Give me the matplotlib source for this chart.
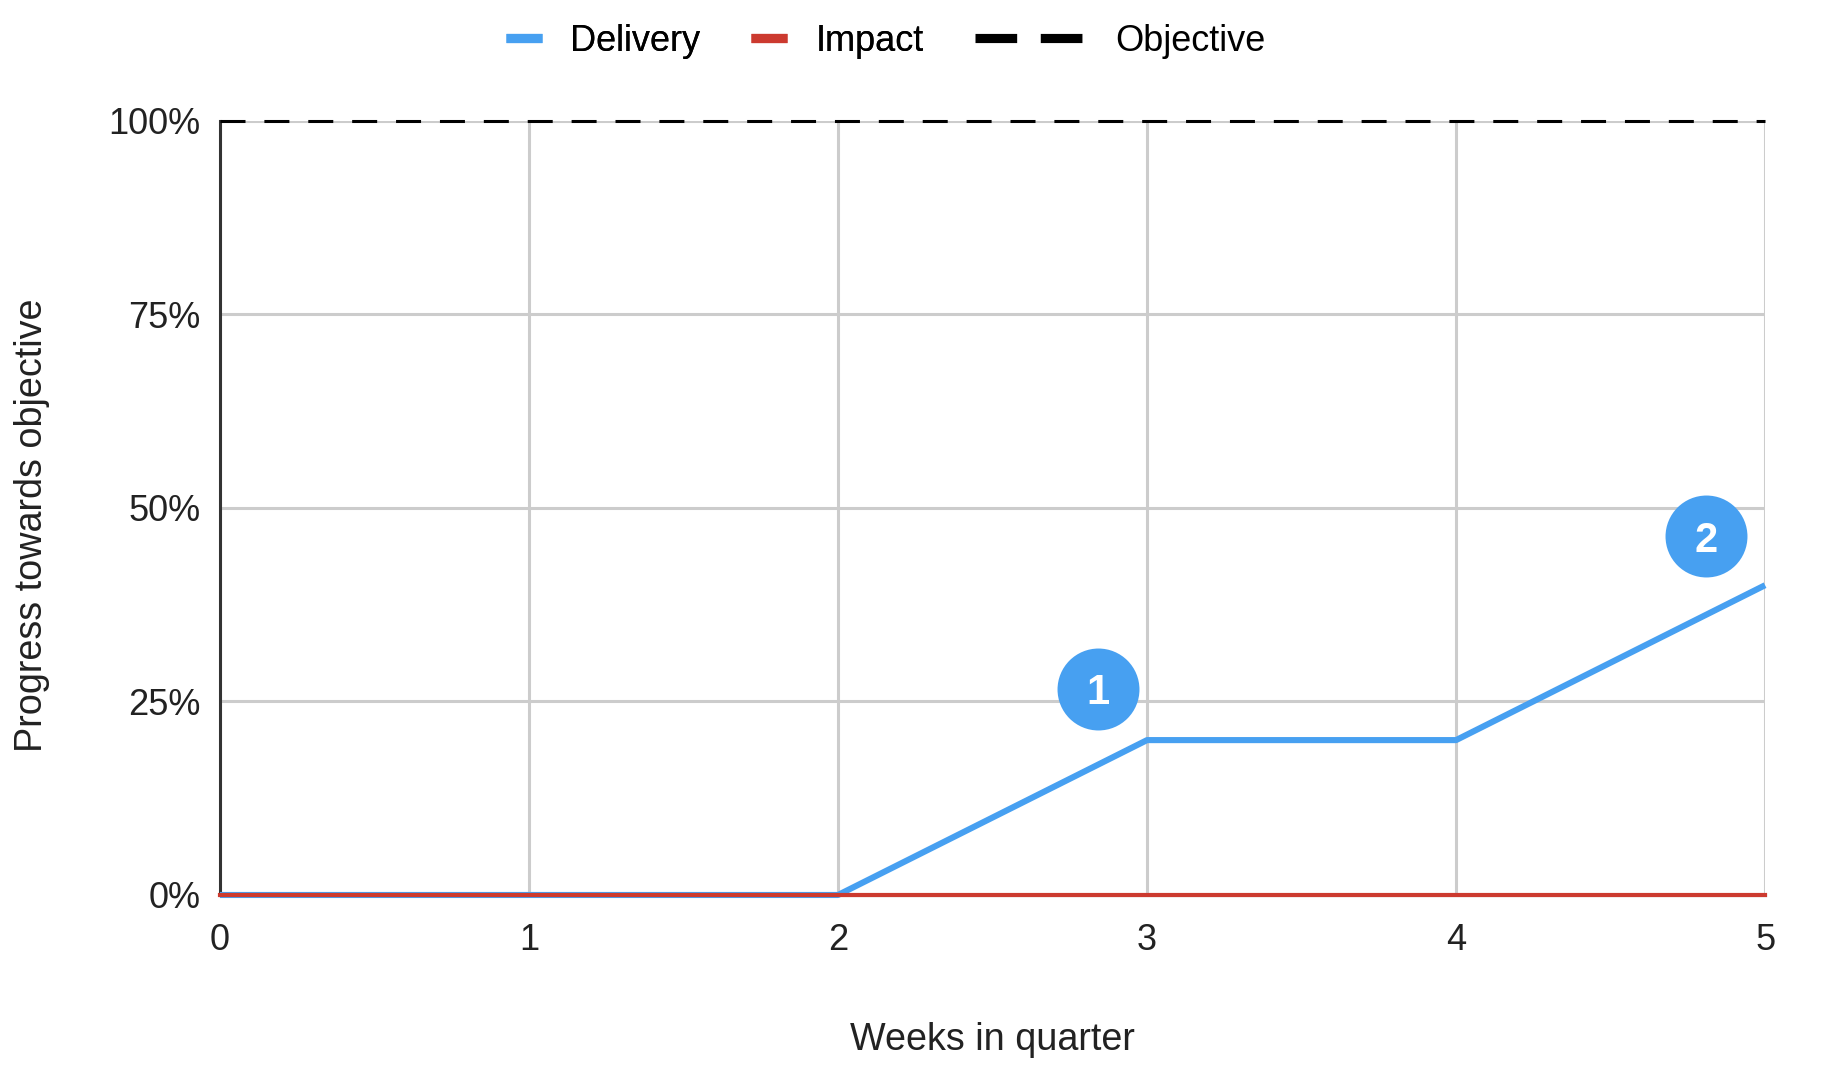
import matplotlib
matplotlib.use('Agg')
import matplotlib.pyplot as plt
from matplotlib.lines import Line2D
from matplotlib.ticker import FuncFormatter

# data
weeks = [0, 1, 2, 3, 4, 5]
delivery = [0, 0, 0, 20, 20, 40]
impact = [0, 0, 0, 0, 0, 0]
objective = 100
note_labels = ['1', '2']
note_x = [2.84, 4.81]
note_y = [26.6, 46.3]

BLUE = '#47A0F1'
RED = '#CC3A2F'

plt.rcParams.update({
    'font.family': ['Liberation Sans', 'DejaVu Sans'],
    'font.size': 13,
    'lines.scale_dashes': False,
})

fig = plt.figure(figsize=(9.12, 5.44), dpi=200)
ax = fig.add_axes([0.1206, 0.1774, 0.8471, 0.7118])

ax.plot(weeks, [objective] * len(weeks), color='black', lw=1.1,
        dashes=(9, 6.8), zorder=4, clip_on=False)
ax.plot(weeks, delivery, color=BLUE, lw=2.2, zorder=5, clip_on=False,
        solid_capstyle='butt')
ax.plot(weeks, impact, color=RED, lw=1.5, zorder=6, clip_on=False)

# numbered callouts
for lab, x, y in zip(note_labels, note_x, note_y):
    ax.plot(x, y, 'o', ms=29.5, color=BLUE, mec='none', zorder=7, clip_on=False)
    ax.text(x, y, lab, color='white', fontsize=15, fontweight='bold',
            ha='center', va='center_baseline', zorder=8)

ax.set_xlim(0, 5)
ax.set_ylim(0, 100)
ax.set_xticks(weeks)
ax.set_yticks([0, 25, 50, 75, 100])
ax.yaxis.set_major_formatter(FuncFormatter(lambda v, p: '{:d}%'.format(int(v))))
ax.grid(True, color='#CCCCCC', lw=1.1)
ax.set_axisbelow(True)
ax.tick_params(length=0, labelsize=13, colors='#222222')
ax.tick_params(axis='x', pad=10)
ax.tick_params(axis='y', pad=7)
for side in ['top', 'right']:
    ax.spines[side].set_visible(False)
ax.spines['left'].set_color('#333333')
ax.spines['left'].set_linewidth(1.1)
ax.spines['bottom'].set_color('#333333')
ax.spines['bottom'].set_linewidth(1.1)

ax.set_xlabel('Weeks in quarter', labelpad=23, color='#222222', fontsize=13.6)
ax.set_ylabel('Progress towards objective', labelpad=21, color='#222222',
              fontsize=13.6)
ax.yaxis.label.set_y(0.477)

h1 = [Line2D([], [], color=BLUE, lw=3.3, solid_capstyle='butt'),
      Line2D([], [], color=RED, lw=3.3, solid_capstyle='butt')]
leg1 = fig.legend(h1, ['Delivery', 'Impact'], loc='center left',
                  bbox_to_anchor=(0.2774, 0.962), ncol=2, frameon=False,
                  handlelength=1.0, handletextpad=0.78, columnspacing=1.4,
                  borderpad=0, borderaxespad=0, fontsize=13)
h2 = [Line2D([], [], color='black', lw=3.3, dashes=(15, 8.5),
             solid_capstyle='butt', dash_capstyle='butt')]
leg2 = fig.legend(h2, ['Objective'], loc='center left',
                  bbox_to_anchor=(0.5345, 0.962), frameon=False,
                  handlelength=3.1, handletextpad=0.78,
                  borderpad=0, borderaxespad=0, fontsize=13)
fig.add_artist(leg1)

fig.savefig('out.png', dpi=200, facecolor='white')
plt.close(fig)
